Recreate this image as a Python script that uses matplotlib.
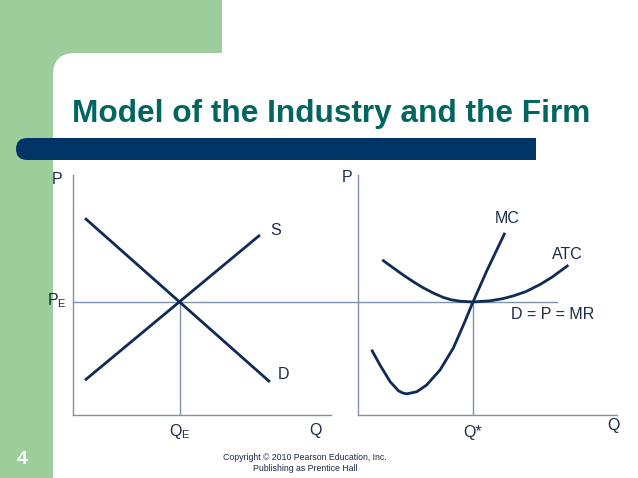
import matplotlib.pyplot as plt
from matplotlib.patches import Rectangle, FancyBboxPatch

plt.rcParams['font.family'] = ['Liberation Sans', 'DejaVu Sans']

# === Industry (left panel), data units 0-10 ===
demand_q = [0.42, 6.91]
demand_p = [8.2, 1.375]
supply_q = [0.42, 6.56]
supply_p = [1.45, 7.5]
q_e = 3.75
p_e = 4.71

# === Firm (right panel) ===
mc_q = [0.55, 0.85, 1.24, 1.56, 1.72, 1.88, 2.27, 2.65, 3.17, 3.68, 4.07, 4.44, 4.97, 5.65]
mc_p = [2.67, 2.08, 1.39, 1.01, 0.92, 0.88, 0.97, 1.25, 1.88, 2.79, 3.75, 4.71, 6.0, 7.54]
atc_q = [0.98, 1.4, 1.75, 2.14, 2.52, 2.91, 3.29, 3.6, 3.95, 4.44, 5.12, 5.6, 6.02, 6.5, 7.05, 7.5, 8.08]
atc_p = [6.43, 6.1, 5.83, 5.55, 5.3, 5.08, 4.9, 4.8, 4.74, 4.71, 4.76, 4.85, 4.97, 5.15, 5.45, 5.75, 6.21]
q_star = 4.44
mr_end = 7.68

navy = '#0e2a55'
guide = '#7f93ab'
txt = '#1c2b48'
green = '#9dcd9b'

fig = plt.figure(figsize=(6.38, 4.78), dpi=100)
W, H = 638, 478

# === Slide background (pixel coords, y up) ===
fig.patches.append(Rectangle((0, 0), 53, H, transform=None, color=green, lw=0, zorder=-3))
fig.patches.append(Rectangle((0, H - 90), 222, 90, transform=None, color=green, lw=0, zorder=-3))
fig.patches.append(FancyBboxPatch((53, -60), 700, H - 53 + 60, boxstyle='round,pad=0,rounding_size=22',
                                  transform=None, color='white', lw=0, zorder=-2))
fig.patches.append(FancyBboxPatch((16, H - 160), 520, 22, boxstyle='round,pad=0,rounding_size=11',
                                  transform=None, color='#003466', lw=0, zorder=-1))
fig.patches.append(Rectangle((300, H - 160), 236, 22, transform=None, color='#003466', lw=0, zorder=-1))

fig.text(72 / W, 1 - 122 / H, 'Model of the Industry and the Firm', fontsize=22.8,
         fontweight='bold', color='#00665f', ha='left', va='baseline')
fig.text(22 / W, 1 - 460 / H, '4', fontsize=14, fontweight='bold', color='white',
         ha='center', va='center')
fig.text(305 / W, 1 - 463 / H, 'Copyright © 2010 Pearson Education, Inc.\nPublishing as Prentice Hall',
         fontsize=6.3, color=txt, ha='center', va='center', linespacing=1.15)

# === Axes ===
axL = fig.add_axes([73 / W, (H - 415) / H, 285 / W, 240 / H])
axR = fig.add_axes([358 / W, (H - 415) / H, 259 / W, 240 / H])
for ax in (axL, axR):
    ax.set_xlim(0, 10)
    ax.set_ylim(0, 10)
    ax.patch.set_alpha(0)
    for s in ('top', 'right'):
        ax.spines[s].set_visible(False)
    for s in ('left', 'bottom'):
        ax.spines[s].set_color(guide)
        ax.spines[s].set_linewidth(1.0)
    ax.set_xticks([])
    ax.set_yticks([])

axL.spines['bottom'].set_bounds(0, 9.05)

# === Left panel: industry ===
axL.plot([0, 10], [p_e, p_e], color=guide, lw=1.0, clip_on=False)
axL.plot([q_e, q_e], [0, p_e], color=guide, lw=1.0)
axL.plot(demand_q, demand_p, color=navy, lw=2.0, solid_capstyle='butt')
axL.plot(supply_q, supply_p, color=navy, lw=2.0, solid_capstyle='butt')

fs = 11.5
axL.text(-0.56, 9.8, 'P', fontsize=fs, color=txt, ha='center', va='center', clip_on=False)
axL.text(-0.56, 4.75, r'P$_{\mathregular{E}}$', fontsize=fs, color=txt, ha='center', va='center')
axL.text(7.1, 7.7, 'S', fontsize=fs, color=txt, ha='center', va='center')
axL.text(7.4, 1.67, 'D', fontsize=fs, color=txt, ha='center', va='center')
axL.text(3.75, -0.68, r'Q$_{\mathregular{E}}$', fontsize=fs, color=txt, ha='center', va='center')
axL.text(8.5, -0.65, 'Q', fontsize=fs, color=txt, ha='center', va='center')

# === Right panel: firm ===
axR.plot([0, mr_end], [p_e, p_e], color=guide, lw=1.0)
axR.plot([q_star, q_star], [0, p_e], color=guide, lw=1.0)
axR.plot(atc_q, atc_p, color=navy, lw=2.0, solid_joinstyle='round')
axR.plot(mc_q, mc_p, color=navy, lw=2.0, solid_joinstyle='round')

axR.text(-0.42, 9.88, 'P', fontsize=fs, color=txt, ha='center', va='center', clip_on=False)
axR.text(5.75, 8.2, 'MC', fontsize=fs, color=txt, ha='center', va='center')
axR.text(8.1, 6.67, 'ATC', fontsize=fs, color=txt, ha='center', va='center')
axR.text(7.5, 4.17, 'D = P = MR', fontsize=fs, color=txt, ha='center', va='center')
axR.text(9.85, -0.42, 'Q', fontsize=fs, color=txt, ha='center', va='center')
axR.text(4.44, -0.72, 'Q*', fontsize=fs, color=txt, ha='center', va='center')

fig.savefig('out.png', dpi=100)
